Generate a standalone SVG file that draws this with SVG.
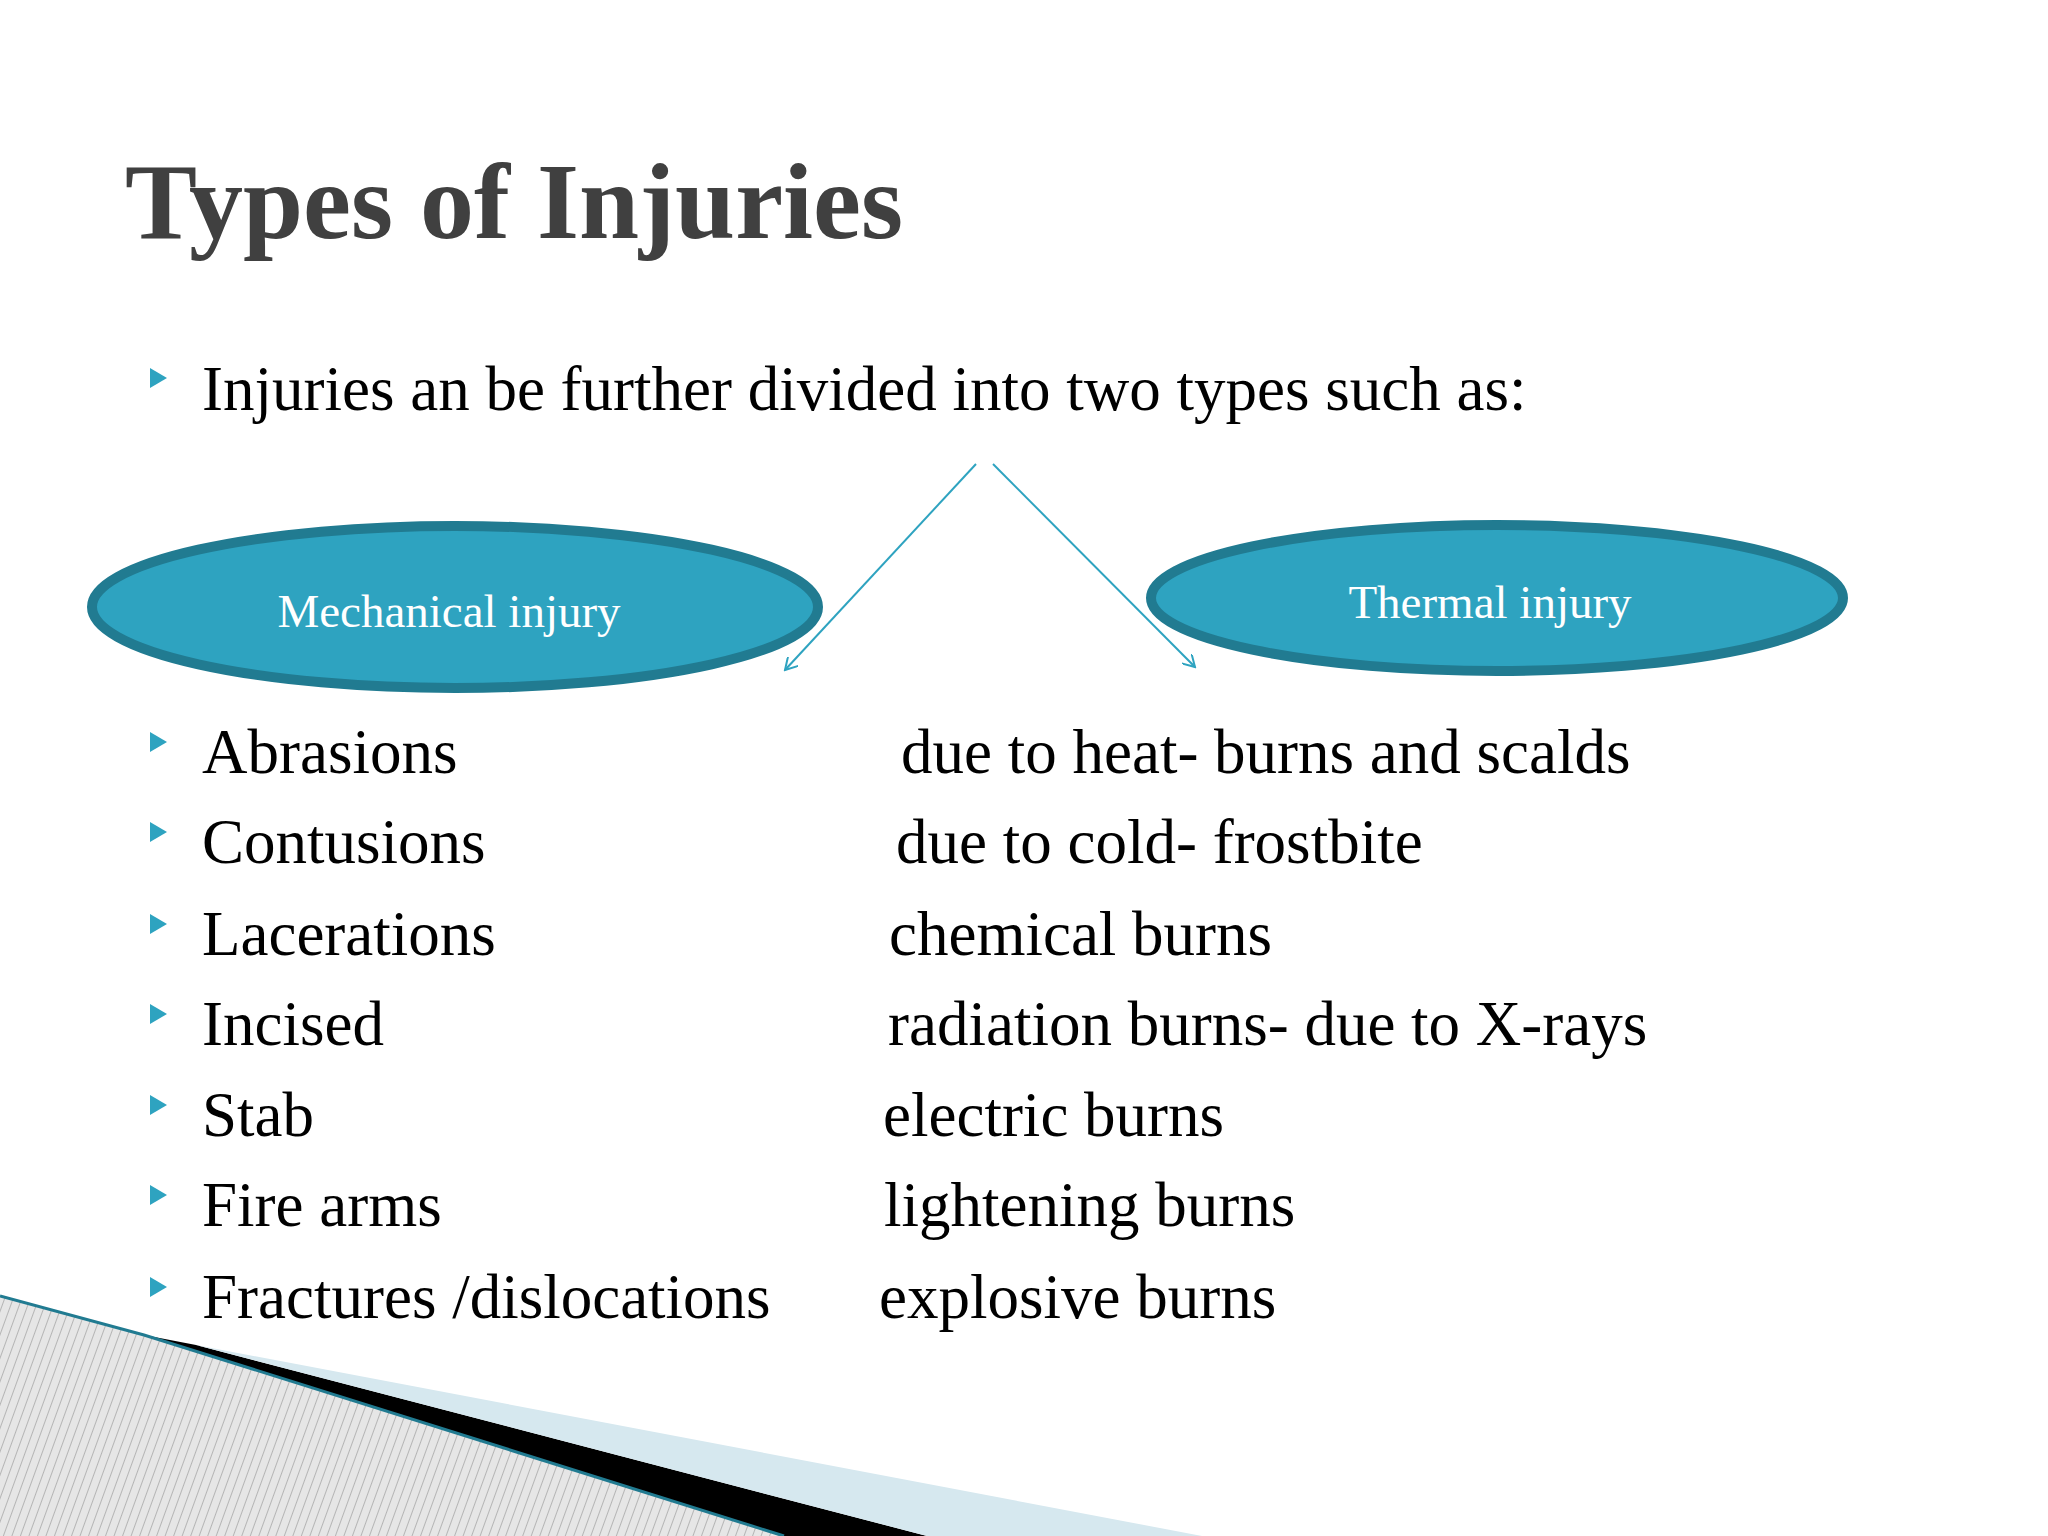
<svg xmlns="http://www.w3.org/2000/svg" width="2048" height="1536" viewBox="0 0 2048 1536">
<style>
.t{font-family:"Liberation Serif",serif;fill:#000;font-size:63px}
.b{fill:#2ea3c0}
.el{fill:#2ea3c0;stroke:#217b91;stroke-width:10}
.et{font-family:"Liberation Serif",serif;fill:#fff;font-size:47px;text-anchor:middle}
.c{stroke:#2ea3c0;stroke-width:2;fill:none}
</style>
<defs>
<pattern id="h" width="8" height="8" patternUnits="userSpaceOnUse" patternTransform="rotate(20)">
<rect width="8" height="8" fill="#e6e6e6"/><line x1="0" y1="0" x2="0" y2="8" stroke="#b5b5b5" stroke-width="2"/>
</pattern>
<marker id="a" markerWidth="14" markerHeight="14" refX="12" refY="7" orient="auto" markerUnits="userSpaceOnUse">
<path d="M0,0 L12,7 L0,14" fill="none" stroke="#2ea3c0" stroke-width="2"/>
</marker>
<path id="tri" d="M0,0 L17,10 L0,20Z"/>
</defs>
<rect width="2048" height="1536" fill="#fff"/>
<polygon points="0,1296 144,1335 784,1536 0,1536" fill="url(#h)"/>
<polygon points="144,1335 196,1345 927,1536 784,1536" fill="#000"/>
<polygon points="196,1345 1202,1536 927,1536" fill="#d6e8ef"/>
<polyline points="0,1296 144,1335 784,1536" fill="none" stroke="#217b91" stroke-width="3"/>
<text x="125" y="238" font-family="Liberation Serif,serif" font-weight="bold" font-size="108" fill="#404040">Types of Injuries</text>
<use href="#tri" x="150" y="368" class="b"/>
<text class="t" x="202" y="410" font-size="62">Injuries an be further divided into two types such as:</text>
<g id="mechanical"><ellipse class="el" cx="455" cy="607" rx="363" ry="81"/><text class="et" x="449" y="627">Mechanical injury</text></g>
<g id="thermal"><ellipse class="el" cx="1497" cy="598" rx="346" ry="73"/><text class="et" x="1490" y="618">Thermal injury</text></g>
<g id="connectors">
<line class="c" x1="976" y1="464" x2="785" y2="670" marker-end="url(#a)"/>
<line class="c" x1="993" y1="464" x2="1195" y2="667" marker-end="url(#a)"/>
</g>
<g class="b">
<use href="#tri" x="150" y="732"/><use href="#tri" x="150" y="822"/><use href="#tri" x="150" y="914"/><use href="#tri" x="150" y="1004"/><use href="#tri" x="150" y="1095"/><use href="#tri" x="150" y="1185"/><use href="#tri" x="150" y="1277"/>
</g>
<g class="t">
<text x="202" y="773">Abrasions</text><text x="202" y="863">Contusions</text><text x="202" y="955">Lacerations</text><text x="202" y="1045">Incised</text><text x="202" y="1136">Stab</text><text x="202" y="1226">Fire arms</text><text x="202" y="1318">Fractures /dislocations</text>
<text x="901" y="773">due to heat- burns and scalds</text><text x="896" y="863">due to cold- frostbite</text><text x="889" y="955">chemical burns</text><text x="888" y="1045">radiation burns- due to X-rays</text><text x="883" y="1136">electric burns</text><text x="884" y="1226">lightening burns</text><text x="879" y="1318">explosive burns</text>
</g>
</svg>
